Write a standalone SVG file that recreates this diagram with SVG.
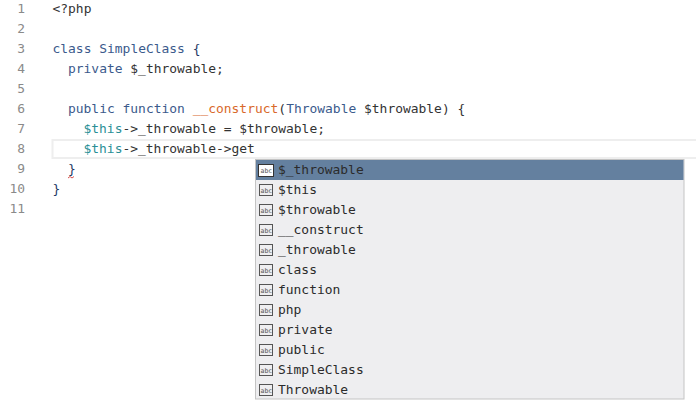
<svg xmlns="http://www.w3.org/2000/svg" width="696" height="409" viewBox="0 0 696 409">
<style>
text{font-family:"DejaVu Sans Mono","Liberation Mono",monospace;font-size:12.95px;fill:#333}
.n{fill:#8a8a8a;text-anchor:end}
.k{fill:#3b5a8c}.f{fill:#d9692a}.t{fill:#2a8f96}.c{fill:#1f3a66}
.b{fill:none;stroke:#555;stroke-width:1}
.a{font-size:6.5px;fill:#555}
.w{fill:#2b2b2b}
</style>
<rect width="696" height="409" fill="#fff"/>
<g id="gutter">
<text class="n" x="25" y="13">1</text><text class="n" x="25" y="33">2</text><text class="n" x="25" y="53">3</text><text class="n" x="25" y="73">4</text><text class="n" x="25" y="93">5</text><text class="n" x="25" y="113">6</text><text class="n" x="25" y="133">7</text><text class="n" x="25" y="153">8</text><text class="n" x="25" y="173">9</text><text class="n" x="25" y="193">10</text><text class="n" x="25" y="213">11</text>
</g>
<g id="code">
<path d="M52.500 140H696M52.500 158H696M52.500 139V159" fill="none" stroke="#eeeeee" stroke-width="2"/>
<text x="52.500" y="13">&lt;?php</text>
<text x="52.500" y="53"><tspan class="k">class SimpleClass</tspan> <tspan class="c">{</tspan></text>
<text x="68" y="73"><tspan class="k">private</tspan> $_throwable;</text>
<text x="68" y="113"><tspan class="k">public function</tspan> <tspan class="f">__construct</tspan>(<tspan class="k">Throwable</tspan> $throwable) {</text>
<text x="83.500" y="133"><tspan class="t">$this</tspan>-&gt;_throwable = $throwable;</text>
<text x="83.500" y="153"><tspan class="t">$this</tspan>-&gt;_throwable-&gt;get</text>
<text class="c" x="68" y="173">}</text>
<text class="c" x="52.500" y="193">}</text>
<path d="M68 178l2-1.500 2 1.500 2-1.500" fill="none" stroke="#d9534f" stroke-width="1"/>
</g>
<g id="suggest">
<rect x="255.500" y="159.500" width="428.500" height="239.500" fill="#eeeef0" stroke="#c4c4c4"/>
<rect x="256" y="160" width="427.500" height="20" fill="#64809f"/>
</g>
<g id="items">
<rect x="258.500" y="164.500" width="15" height="12" fill="#fff" stroke="#333"/><text class="a" x="260.500" y="173">abc</text><text class="w" x="278" y="174">$_throwable</text>
<rect x="259.500" y="184.500" width="13" height="11" class="b"/><text class="a" x="260.500" y="192.500">abc</text><text class="w" x="278" y="194">$this</text>
<rect x="259.500" y="204.500" width="13" height="11" class="b"/><text class="a" x="260.500" y="212.500">abc</text><text class="w" x="278" y="214">$throwable</text>
<rect x="259.500" y="224.500" width="13" height="11" class="b"/><text class="a" x="260.500" y="232.500">abc</text><text class="w" x="278" y="234">__construct</text>
<rect x="259.500" y="244.500" width="13" height="11" class="b"/><text class="a" x="260.500" y="252.500">abc</text><text class="w" x="278" y="254">_throwable</text>
<rect x="259.500" y="264.500" width="13" height="11" class="b"/><text class="a" x="260.500" y="272.500">abc</text><text class="w" x="278" y="274">class</text>
<rect x="259.500" y="284.500" width="13" height="11" class="b"/><text class="a" x="260.500" y="292.500">abc</text><text class="w" x="278" y="294">function</text>
<rect x="259.500" y="304.500" width="13" height="11" class="b"/><text class="a" x="260.500" y="312.500">abc</text><text class="w" x="278" y="314">php</text>
<rect x="259.500" y="324.500" width="13" height="11" class="b"/><text class="a" x="260.500" y="332.500">abc</text><text class="w" x="278" y="334">private</text>
<rect x="259.500" y="344.500" width="13" height="11" class="b"/><text class="a" x="260.500" y="352.500">abc</text><text class="w" x="278" y="354">public</text>
<rect x="259.500" y="364.500" width="13" height="11" class="b"/><text class="a" x="260.500" y="372.500">abc</text><text class="w" x="278" y="374">SimpleClass</text>
<rect x="259.500" y="384.500" width="13" height="11" class="b"/><text class="a" x="260.500" y="392.500">abc</text><text class="w" x="278" y="394">Throwable</text>
</g>
</svg>
